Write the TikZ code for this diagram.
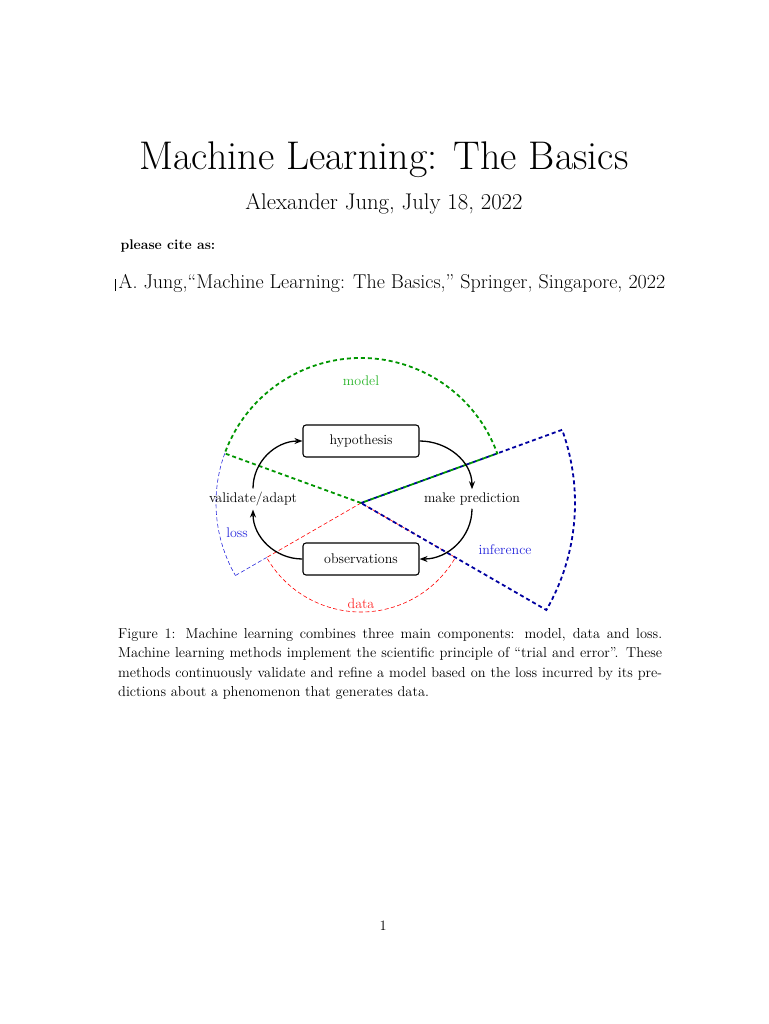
\documentclass[tikz,border=0pt]{standalone}
\usetikzlibrary{arrows.meta,calc}
\definecolor{mgreen}{RGB}{0,150,0}
\definecolor{lgreen}{RGB}{40,180,40}
\definecolor{dblue}{RGB}{0,0,160}
\definecolor{lblue}{RGB}{40,40,220}
\tikzset{
 hbox/.style={draw,line width=1.1pt,rounded corners=3pt,minimum width=116pt,minimum height=32pt,font=\fontsize{14}{16}\selectfont},
 lbl/.style={font=\fontsize{14}{16}\selectfont},
 thickdash/.style={line width=1.8pt,dash pattern=on 4pt off 3pt},
 thindash/.style={line width=0.6pt,dash pattern=on 4pt off 2.5pt},
 flow/.style={line width=1.3pt,-{Stealth[length=8pt]}}
}
\begin{document}
\begin{tikzpicture}[x=1pt,y=-1pt]
\useasboundingbox (0,0) rectangle (768,1024);
\node[font=\fontsize{40}{46}\selectfont] (title) at (384,160) {Machine Learning: The Basics};
\node[font=\fontsize{22.7}{26}\selectfont] (auth) at (384,204) {Alexander Jung, July 18, 2022};
\node[anchor=west,font=\fontsize{14}{16}\selectfont\bfseries] (cite) at (117,246) {please cite as:};
\node[anchor=west,font=\fontsize{20}{24}\selectfont] (ref) at (111,283) {\vrule width 0.8pt height 9pt depth 3pt\,A. Jung,``Machine Learning: The Basics,'' Springer, Singapore, 2022};
\coordinate (C) at (361,503);
% data
\draw[red,thindash] (C) -- ++(-210:109) arc[start angle=-210,end angle=-330,radius=109] -- (C);
% loss
\draw[lblue,thindash] (C) ++(-160:145) arc[start angle=-160,end angle=-210,radius=145] coordinate (lossend);
\draw[lblue,thindash] (lossend) -- ($(C)+(-210:109)$);
% inference
\draw[dblue,thickdash] (C) -- ++(-20:214) arc[start angle=-20,end angle=30,radius=214] -- (C);
% model
\draw[mgreen,thickdash] (C) -- ++(-160:145) arc[start angle=-160,end angle=-20,radius=145] -- (C);
\node[lbl,text=lgreen] (model) at (361,381) {model};
\node[lbl,text=lblue] (inf) at (505,550) {inference};
\node[lbl,text=lblue] (loss) at (237,533) {loss};
\node[lbl,text=red!85!white] (data) at (361,604) {data};
\node[hbox,fill=white] (hyp) at (361,441) {hypothesis};
\node[hbox,fill=white] (obs) at (361,559) {observations};
\node[lbl] (val) at (253,499) {validate/adapt};
\node[lbl] (pred) at (472,499) {make prediction};
\draw[flow] (val.north) to[out=90,in=180] (hyp.west);
\draw[flow] (hyp.east) to[out=0,in=90] (pred.north);
\draw[flow] (pred.south) to[out=-90,in=0] (obs.east);
\draw[flow] (obs.west) to[out=180,in=-90] (val.south);
\node[anchor=north west,text width=544pt,align=justify,inner sep=0pt,font=\fontsize{14.4}{19.5}\selectfont] (cap) at (118,628) {Figure 1: Machine learning combines three main components: model, data and loss. Machine learning methods implement the scientific principle of ``trial and error''. These methods continuously validate and refine a model based on the loss incurred by its predictions about a phenomenon that generates data.};
\node[font=\fontsize{14.3}{16}\selectfont] (pg) at (383,926) {1};
\end{tikzpicture}
\end{document}
